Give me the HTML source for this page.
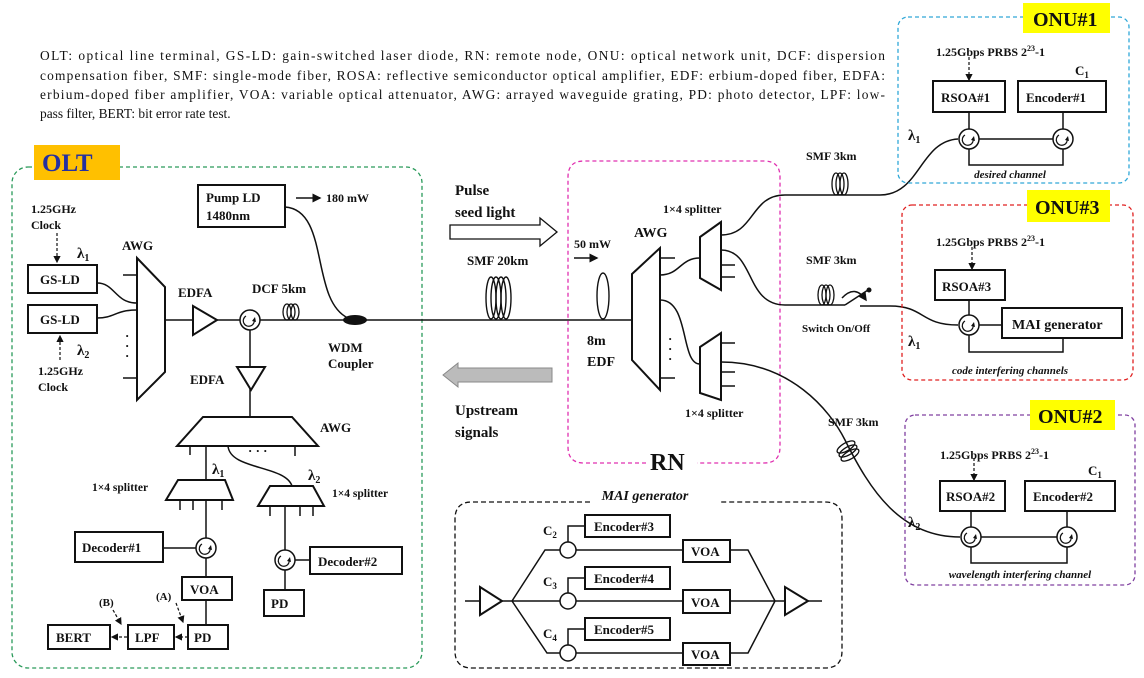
<!DOCTYPE html>
<html><head><meta charset="utf-8"><style>
html,body{margin:0;padding:0;background:#fff}
svg{display:block}
text{font-family:"Liberation Serif",serif;font-weight:bold;font-size:13px;fill:#111}
.b{fill:#fff;stroke:#111;stroke-width:2}
.l{fill:none;stroke:#111;stroke-width:1.5}
.d{fill:none;stroke:#111;stroke-width:1.2;stroke-dasharray:3,2}
.it{font-style:italic;font-size:11px}
.hd{font-weight:normal;font-size:13.4px}
</style></head><body>
<svg width="1144" height="678" viewBox="0 0 1144 678" xmlns="http://www.w3.org/2000/svg">
<defs>
<marker id="ah" markerWidth="6" markerHeight="6" refX="5" refY="3" orient="auto"><path d="M0,0L6,3L0,6z" fill="#111"/></marker>
<g id="circ"><circle r="10" fill="#fff" stroke="#111" stroke-width="1.5"/><path d="M-4,-4A5.5,5.5 0 1 0 4,-1" fill="none" stroke="#111" stroke-width="1.2"/><path d="M2,1L5,-3L6,2z" fill="#111"/></g>
</defs>
<!-- header -->
<text class="hd" x="40" y="60" textLength="845" lengthAdjust="spacing">OLT: optical line terminal, GS-LD: gain-switched laser diode, RN: remote node, ONU: optical network unit, DCF: dispersion</text>
<text class="hd" x="40" y="80" textLength="845" lengthAdjust="spacing">compensation fiber, SMF: single-mode fiber, ROSA: reflective semiconductor optical amplifier, EDF: erbium-doped fiber, EDFA:</text>
<text class="hd" x="40" y="99" textLength="845" lengthAdjust="spacing">erbium-doped fiber amplifier, VOA: variable optical attenuator, AWG: arrayed waveguide grating, PD: photo detector, LPF: low-</text>
<text class="hd" x="40" y="118">pass filter, BERT: bit error rate test.</text>

<!-- OLT -->
<rect x="12" y="167" width="410" height="501" rx="16" fill="none" stroke="#2a9a5a" stroke-width="1.3" stroke-dasharray="4,3"/>
<rect x="34" y="145" width="86" height="35" fill="#ffc000"/>
<text x="42" y="171" style="font-size:25px;fill:#2530a0">OLT</text>
<rect class="b" x="198" y="185" width="87" height="42"/>
<text x="206" y="202">Pump LD</text><text x="206" y="220">1480nm</text>
<line class="l" x1="296" y1="198" x2="320" y2="198" marker-end="url(#ah)"/>
<text x="326" y="202" style="font-size:12px">180 mW</text>
<text x="31" y="213" style="font-size:12px">1.25GHz</text><text x="31" y="229" style="font-size:12px">Clock</text>
<line class="d" x1="57" y1="233" x2="57" y2="262" marker-end="url(#ah)"/>
<text x="77" y="258" style="font-size:15px">λ<tspan style="font-size:10px" dy="3">1</tspan></text>
<rect class="b" x="28" y="265" width="69" height="28"/><text x="40" y="284">GS-LD</text>
<rect class="b" x="28" y="305" width="69" height="28"/><text x="40" y="324">GS-LD</text>
<line class="d" x1="60" y1="360" x2="60" y2="336" marker-end="url(#ah)"/>
<text x="77" y="355" style="font-size:15px">λ<tspan style="font-size:10px" dy="3">2</tspan></text>
<text x="38" y="375" style="font-size:12px">1.25GHz</text><text x="38" y="391" style="font-size:12px">Clock</text>
<text x="122" y="250">AWG</text>
<polygon class="b" points="137,258 165,287 165,372 137,400"/>
<line class="l" x1="123" y1="275" x2="137" y2="275"/><line class="l" x1="123" y1="378" x2="137" y2="378"/>
<text x="125" y="340">·</text><text x="125" y="350">·</text><text x="125" y="360">·</text>
<path class="l" d="M97,283C115,283 115,303 137,303"/><path class="l" d="M97,318C115,318 115,310 137,310"/>
<line class="l" x1="165" y1="320" x2="632" y2="320"/>
<text x="178" y="297">EDFA</text>
<polygon class="b" points="193,306 193,335 217,320"/>
<text x="252" y="293">DCF 5km</text>
<g fill="none" stroke="#111" stroke-width="1.3"><ellipse cx="287" cy="312" rx="4" ry="8"/><ellipse cx="291" cy="312" rx="4" ry="8"/><ellipse cx="295" cy="312" rx="4" ry="8"/></g>
<path class="l" d="M285,207C330,210 310,300 348,318"/>
<ellipse cx="355" cy="320" rx="12" ry="5" fill="#111"/>
<text x="328" y="352">WDM</text><text x="328" y="368">Coupler</text>
<line class="l" x1="250" y1="330" x2="250" y2="417"/>
<use href="#circ" x="250" y="320"/>
<text x="190" y="384">EDFA</text>
<polygon class="b" points="237,367 265,367 251,390"/>
<polygon class="b" points="203,417 292,417 318,446 177,446"/>
<text x="320" y="432">AWG</text>
<line class="l" x1="190" y1="446" x2="190" y2="455"/><line class="l" x1="295" y1="446" x2="295" y2="456"/>
<text x="248" y="455">· · ·</text>
<line class="l" x1="206" y1="446" x2="206" y2="480"/>
<path class="l" d="M228,446C230,470 285,465 292,486"/>
<text x="212" y="474" style="font-size:15px">λ<tspan style="font-size:10px" dy="3">1</tspan></text>
<text x="308" y="480" style="font-size:15px">λ<tspan style="font-size:10px" dy="3">2</tspan></text>
<polygon class="b" points="178,480 225,480 233,500 166,500"/>
<text x="92" y="491" style="font-size:11.5px">1×4 splitter</text>
<g class="l"><line x1="180" y1="500" x2="180" y2="510"/><line x1="193" y1="500" x2="193" y2="510"/><line x1="222" y1="500" x2="222" y2="510"/></g>
<polygon class="b" points="270,486 313,486 324,506 258,506"/>
<text x="332" y="497" style="font-size:11.5px">1×4 splitter</text>
<g class="l"><line x1="270" y1="506" x2="270" y2="516"/><line x1="300" y1="506" x2="300" y2="516"/><line x1="313" y1="506" x2="313" y2="516"/></g>
<line class="l" x1="206" y1="500" x2="206" y2="625"/>
<line class="l" x1="163" y1="548" x2="206" y2="548"/>
<use href="#circ" x="206" y="548"/>
<rect class="b" x="75" y="532" width="88" height="30"/><text x="82" y="552">Decoder#1</text>
<rect class="b" x="182" y="577" width="50" height="23"/><text x="190" y="594">VOA</text>
<rect class="b" x="188" y="625" width="40" height="24"/><text x="194" y="642">PD</text>
<rect class="b" x="128" y="625" width="46" height="24"/><text x="135" y="642">LPF</text>
<rect class="b" x="48" y="625" width="62" height="24"/><text x="56" y="642">BERT</text>
<line class="d" x1="188" y1="637" x2="176" y2="637" marker-end="url(#ah)"/>
<line class="d" x1="127" y1="637" x2="112" y2="637" marker-end="url(#ah)"/>
<text x="156" y="600" style="font-size:11px">(A)</text><line class="d" x1="176" y1="603" x2="183" y2="622" marker-end="url(#ah)"/>
<text x="99" y="606" style="font-size:11px">(B)</text><line class="d" x1="113" y1="610" x2="121" y2="624" marker-end="url(#ah)"/>
<line class="l" x1="285" y1="506" x2="285" y2="590"/>
<line class="l" x1="285" y1="560" x2="310" y2="560"/>
<use href="#circ" x="285" y="560"/>
<rect class="b" x="310" y="547" width="92" height="27"/><text x="318" y="566">Decoder#2</text>
<rect class="b" x="264" y="590" width="40" height="26"/><text x="271" y="608">PD</text>

<!-- middle -->
<text x="455" y="195" style="font-size:15px">Pulse</text><text x="455" y="217" style="font-size:15px">seed light</text>
<polygon points="450,225 540,225 540,218 557,232 540,246 540,239 450,239" fill="#fff" stroke="#111" stroke-width="1.3"/>
<text x="467" y="265">SMF 20km</text>
<g fill="none" stroke="#111" stroke-width="1.4"><ellipse cx="491" cy="298" rx="5" ry="21"/><ellipse cx="496" cy="298" rx="5" ry="21"/><ellipse cx="501" cy="298" rx="5" ry="21"/><ellipse cx="506" cy="298" rx="5" ry="21"/></g>
<polygon points="443,375 458,363 458,368 552,368 552,382 458,382 458,387" fill="#bbb" stroke="#888" stroke-width="1"/>
<text x="455" y="415" style="font-size:15px">Upstream</text><text x="455" y="437" style="font-size:15px">signals</text>

<!-- RN -->
<path d="M646,463H584Q568,463 568,447V177Q568,161 584,161H764Q780,161 780,177V447Q780,463 764,463H697" fill="none" stroke="#e030b0" stroke-width="1.3" stroke-dasharray="4,3"/>
<text x="650" y="470" style="font-size:24px">RN</text>
<text x="574" y="248" style="font-size:12px">50 mW</text>
<line class="l" x1="574" y1="258" x2="597" y2="258" marker-end="url(#ah)"/>
<ellipse cx="603" cy="296" rx="6" ry="23" fill="#fff" stroke="#111" stroke-width="1.4"/>
<text x="587" y="345" style="font-size:14px">8m</text><text x="587" y="366" style="font-size:14px">EDF</text>
<text x="634" y="237" style="font-size:14px">AWG</text>
<polygon class="b" points="632,274 660,248 660,390 632,360"/>
<line class="l" x1="660" y1="258" x2="675" y2="258"/><line class="l" x1="660" y1="378" x2="675" y2="378"/>
<text x="668" y="343">·</text><text x="668" y="353">·</text><text x="668" y="363">·</text>
<path class="l" d="M660,275C680,275 680,258 700,258"/>
<path class="l" d="M660,300C690,300 680,364 700,364"/>
<text x="663" y="213" style="font-size:12px">1×4 splitter</text>
<polygon class="b" points="700,237 721,222 721,290 700,278"/>
<g class="l"><line x1="721" y1="265" x2="735" y2="265"/><line x1="721" y1="277" x2="735" y2="277"/></g>
<polygon class="b" points="700,347 721,333 721,400 700,393"/>
<g class="l"><line x1="721" y1="343" x2="735" y2="343"/><line x1="721" y1="372" x2="735" y2="372"/><line x1="721" y1="386" x2="735" y2="386"/></g>
<text x="685" y="417" style="font-size:12px">1×4 splitter</text>
<!-- fibers to ONUs -->
<path class="l" d="M721,235C755,235 750,195 785,195H880C920,195 920,141 958,139"/>
<text x="806" y="160" style="font-size:12px">SMF 3km</text>
<g fill="none" stroke="#111" stroke-width="1.3"><ellipse cx="836" cy="184" rx="4" ry="11"/><ellipse cx="840" cy="184" rx="4" ry="11"/><ellipse cx="844" cy="184" rx="4" ry="11"/></g>
<path class="l" d="M721,250C755,250 745,305 785,305H845"/>
<text x="806" y="264" style="font-size:12px">SMF 3km</text>
<g fill="none" stroke="#111" stroke-width="1.3"><ellipse cx="822" cy="295" rx="4" ry="10"/><ellipse cx="826" cy="295" rx="4" ry="10"/><ellipse cx="830" cy="295" rx="4" ry="10"/></g>
<line class="l" x1="845" y1="305" x2="868" y2="290"/><circle cx="869" cy="290" r="2.5" fill="#111"/>
<path class="l" d="M842,298Q855,284 866,300" marker-end="url(#ah)"/>
<path class="l" d="M860,306H890C925,306 920,325 958,325"/>
<text x="802" y="332" style="font-size:11px">Switch On/Off</text>
<path class="l" d="M721,362C790,362 830,410 845,440C870,490 900,537 960,537"/>
<text x="828" y="426" style="font-size:12px">SMF 3km</text>
<g fill="none" stroke="#111" stroke-width="1.3"><ellipse cx="846" cy="447" rx="10" ry="4" transform="rotate(-30 846 447)"/><ellipse cx="848" cy="451" rx="10" ry="4" transform="rotate(-30 848 451)"/><ellipse cx="850" cy="455" rx="10" ry="4" transform="rotate(-30 850 455)"/></g>

<!-- ONU1 -->
<rect x="898" y="17" width="231" height="166" rx="10" fill="none" stroke="#30a8d8" stroke-width="1.3" stroke-dasharray="4,3"/>
<rect x="1023" y="3" width="87" height="30" fill="#ffff00"/>
<text x="1033" y="26" style="font-size:20px">ONU#1</text>
<text x="936" y="56" style="font-size:12px">1.25Gbps  PRBS 2<tspan dy="-5" style="font-size:8px">23</tspan><tspan dy="5">-1</tspan></text>
<text x="1075" y="75">C<tspan dy="3" style="font-size:9px">1</tspan></text>
<line class="d" x1="969" y1="57" x2="969" y2="80" marker-end="url(#ah)"/>
<rect class="b" x="933" y="81" width="72" height="31"/><text x="941" y="102">RSOA#1</text>
<rect class="b" x="1018" y="81" width="88" height="31"/><text x="1026" y="102">Encoder#1</text>
<path class="l" d="M969,112V165H1063V112M969,139H1063"/>
<use href="#circ" x="969" y="139"/><use href="#circ" x="1063" y="139"/>
<text class="it" x="1010" y="178" text-anchor="middle">desired channel</text>
<text x="908" y="140" style="font-size:15px">λ<tspan style="font-size:10px" dy="3">1</tspan></text>

<!-- ONU3 -->
<rect x="902" y="205" width="231" height="175" rx="10" fill="none" stroke="#e02020" stroke-width="1.3" stroke-dasharray="4,3"/>
<rect x="1027" y="190" width="83" height="32" fill="#ffff00"/>
<text x="1035" y="214" style="font-size:20px">ONU#3</text>
<text x="936" y="246" style="font-size:12px">1.25Gbps  PRBS 2<tspan dy="-5" style="font-size:8px">23</tspan><tspan dy="5">-1</tspan></text>
<line class="d" x1="972" y1="247" x2="972" y2="269" marker-end="url(#ah)"/>
<rect class="b" x="935" y="270" width="70" height="30"/><text x="942" y="291">RSOA#3</text>
<path class="l" d="M969,300V352H1063V338M969,325H1002"/>
<use href="#circ" x="969" y="325"/>
<rect class="b" x="1002" y="308" width="120" height="30"/><text x="1012" y="329" style="font-size:14px">MAI generator</text>
<text class="it" x="1010" y="374" text-anchor="middle">code interfering channels</text>
<text x="908" y="346" style="font-size:15px">λ<tspan style="font-size:10px" dy="3">1</tspan></text>

<!-- ONU2 -->
<rect x="905" y="415" width="230" height="170" rx="10" fill="none" stroke="#8040a0" stroke-width="1.3" stroke-dasharray="4,3"/>
<rect x="1030" y="400" width="85" height="30" fill="#ffff00"/>
<text x="1038" y="423" style="font-size:20px">ONU#2</text>
<text x="940" y="459" style="font-size:12px">1.25Gbps  PRBS 2<tspan dy="-5" style="font-size:8px">23</tspan><tspan dy="5">-1</tspan></text>
<text x="1088" y="475">C<tspan dy="3" style="font-size:9px">1</tspan></text>
<line class="d" x1="974" y1="458" x2="974" y2="480" marker-end="url(#ah)"/>
<rect class="b" x="940" y="481" width="65" height="30"/><text x="946" y="501">RSOA#2</text>
<rect class="b" x="1025" y="481" width="90" height="30"/><text x="1033" y="501">Encoder#2</text>
<path class="l" d="M971,511V563H1067V511M971,537H1067"/>
<use href="#circ" x="971" y="537"/><use href="#circ" x="1067" y="537"/>
<text class="it" x="1020" y="578" text-anchor="middle">wavelength interfering channel</text>
<text x="908" y="527" style="font-size:15px">λ<tspan style="font-size:10px" dy="3">2</tspan></text>

<!-- MAI generator -->
<path d="M590,502H472Q455,502 455,519V651Q455,668 472,668H825Q842,668 842,651V519Q842,502 825,502H720" fill="none" stroke="#111" stroke-width="1.3" stroke-dasharray="5,3"/>
<text x="645" y="500" text-anchor="middle" style="font-style:italic;font-size:14px">MAI generator</text>
<path class="l" d="M465,601H512M512,601L545,550H748L775,601M512,601H775M512,601L547,653H748L775,601M775,601H822"/>
<polygon class="b" points="480,587 480,615 502,601"/>
<polygon class="b" points="785,587 785,615 808,601"/>
<g class="l"><path d="M568,550V526H585"/><path d="M568,601V578H585"/><path d="M568,653V629H585"/></g>
<g><circle cx="568" cy="550" r="8" fill="#fff" stroke="#111" stroke-width="1.5"/><circle cx="568" cy="601" r="8" fill="#fff" stroke="#111" stroke-width="1.5"/><circle cx="568" cy="653" r="8" fill="#fff" stroke="#111" stroke-width="1.5"/></g>
<rect class="b" x="585" y="515" width="85" height="22"/><text x="594" y="531">Encoder#3</text>
<rect class="b" x="585" y="567" width="85" height="22"/><text x="594" y="583">Encoder#4</text>
<rect class="b" x="585" y="618" width="85" height="22"/><text x="594" y="634">Encoder#5</text>
<rect class="b" x="683" y="540" width="47" height="22"/><text x="691" y="556">VOA</text>
<rect class="b" x="683" y="590" width="47" height="23"/><text x="691" y="607">VOA</text>
<rect class="b" x="683" y="643" width="47" height="22"/><text x="691" y="659">VOA</text>
<text x="543" y="535">C<tspan dy="3" style="font-size:9px">2</tspan></text>
<text x="543" y="586">C<tspan dy="3" style="font-size:9px">3</tspan></text>
<text x="543" y="638">C<tspan dy="3" style="font-size:9px">4</tspan></text>
</svg>
</body></html>
